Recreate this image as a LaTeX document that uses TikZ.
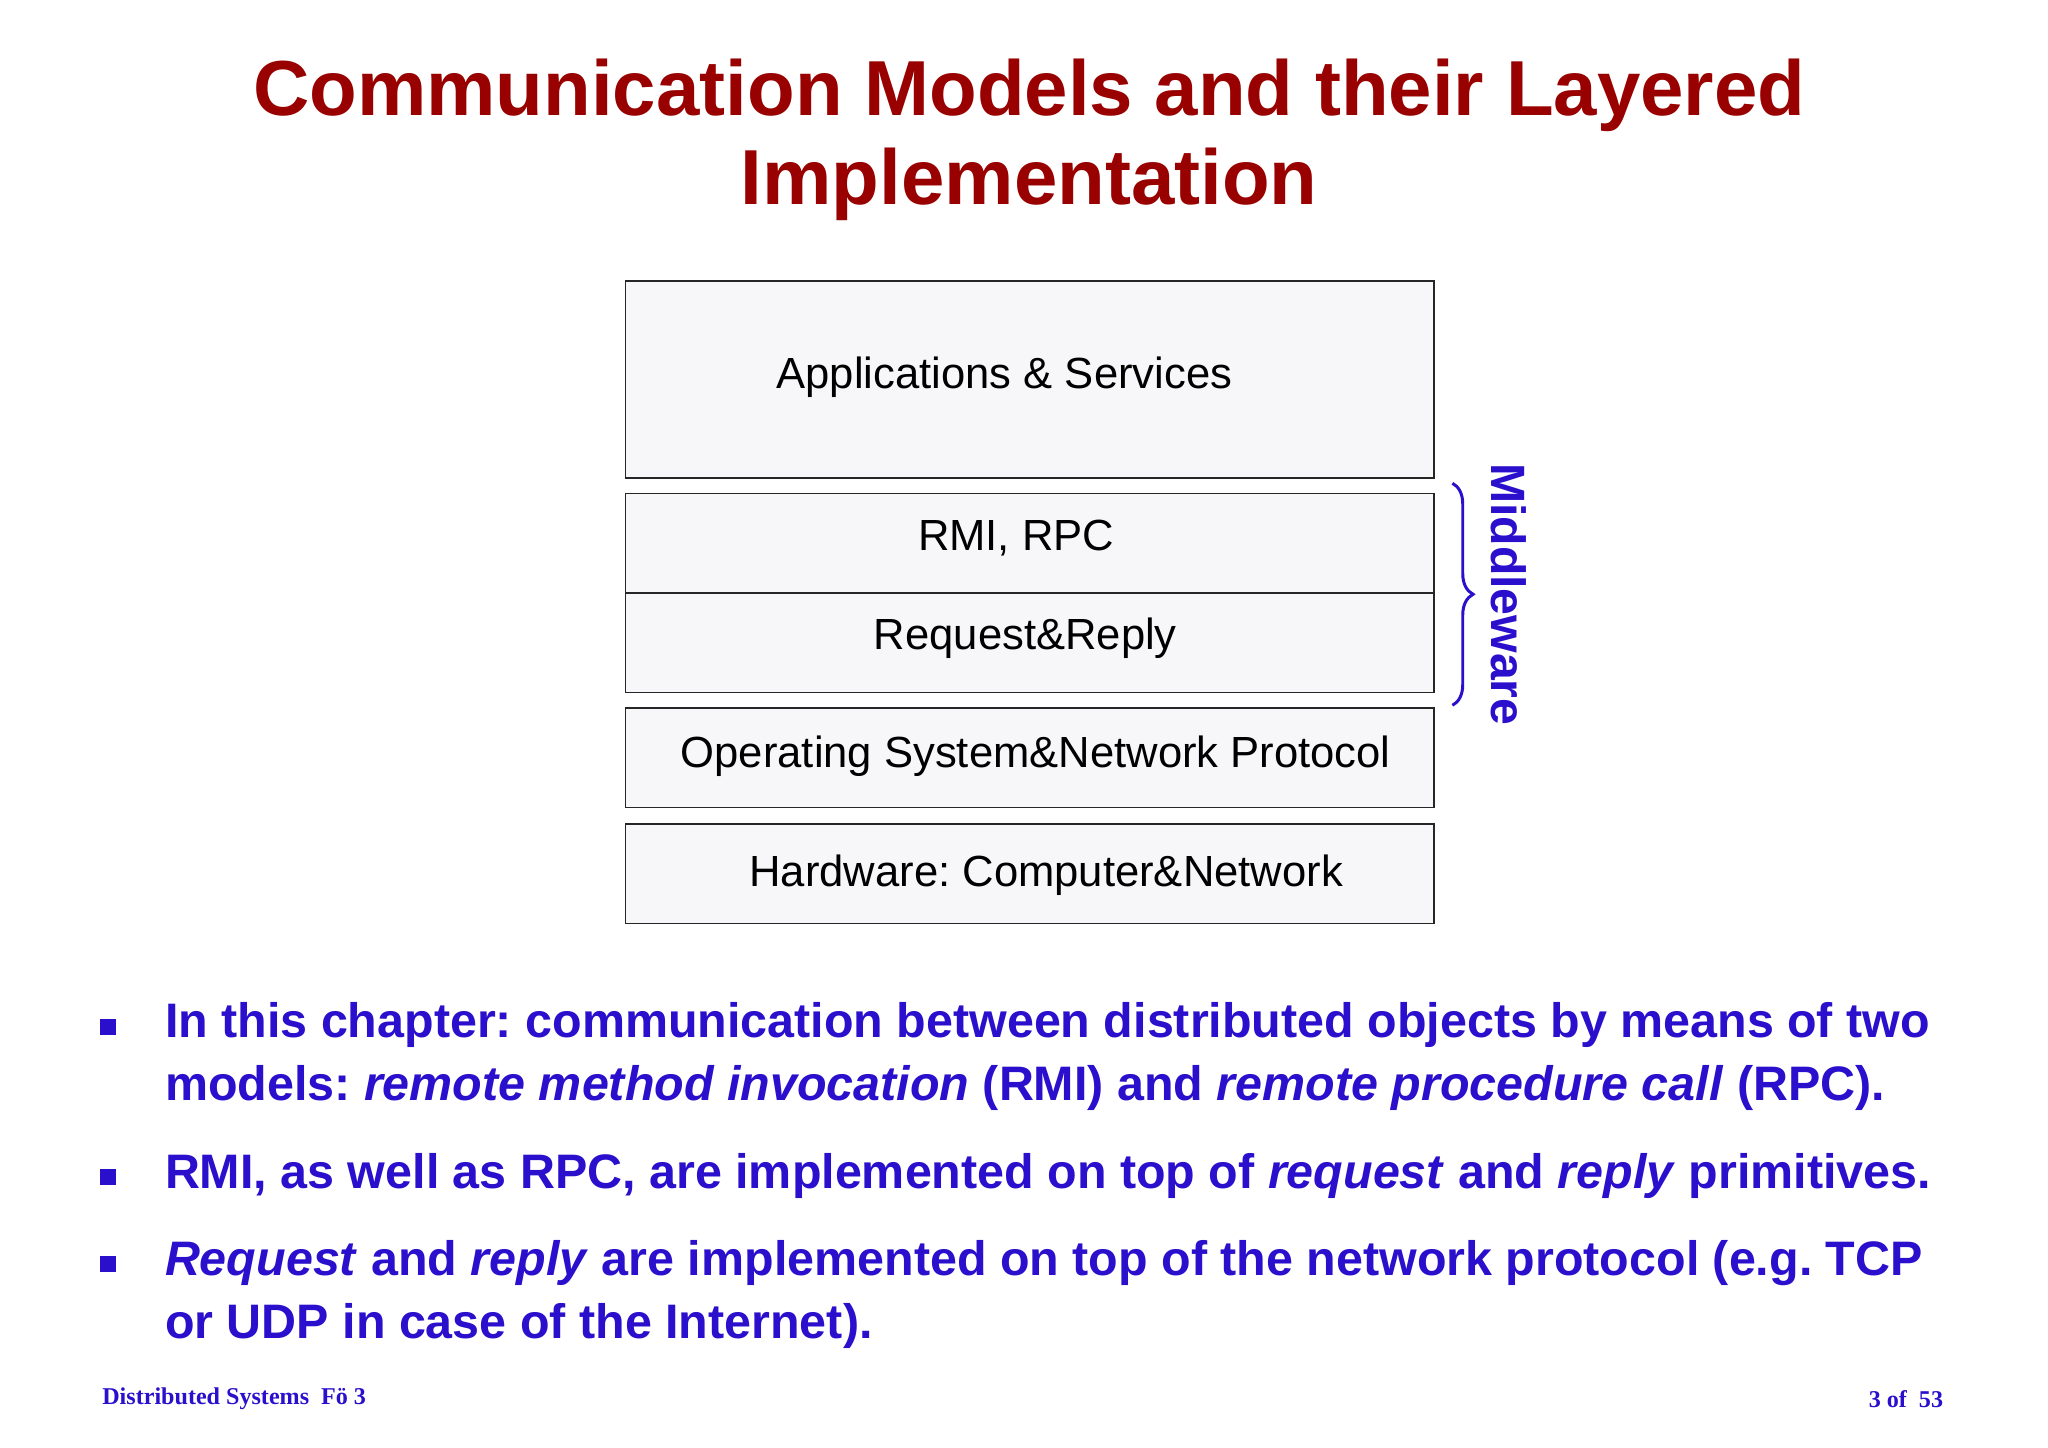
\documentclass[tikz,border=0pt]{standalone}
\usepackage{fontspec}
\setmainfont{Liberation Sans}
\newfontfamily\footfont{Liberation Serif}
\usetikzlibrary{decorations.pathreplacing}
\definecolor{titlered}{HTML}{990000}
\definecolor{bblue}{HTML}{2A0FCC}
\definecolor{boxfill}{HTML}{F7F6F9}
\frenchspacing
\begin{document}
\begin{tikzpicture}[x=0.02cm,y=-0.02cm,
  layer/.style={draw=black!85,line width=0.6pt,fill=boxfill},
  ltext/.style={font=\fontsize{19}{22}\selectfont,text=black},
  btext/.style={anchor=west,inner sep=0,font=\fontsize{21.1}{25}\selectfont\bfseries,text=bblue},
  bsq/.style={fill=bblue,minimum size=7pt,inner sep=0}]
\fill[white!97!blue!2] (0,0) rectangle (1568,1108);
\useasboundingbox (0,0) rectangle (1568,1108);
\node[font=\fontsize{34}{39}\selectfont\bfseries,text=titlered,align=center] (title) at (788,107)
  {Communication Models and their Layered\\Implementation};
\draw[layer] (479,215) rectangle (1098,366);
\draw[layer] (479,378) rectangle (1098,454);
\draw[layer] (479,454) rectangle (1098,530);
\draw[layer] (479,542) rectangle (1098,618);
\draw[layer] (479,631) rectangle (1098,707);
\node[ltext] (apps) at (769,289) {Applications \& Services};
\node[ltext] (rmi) at (778,412) {RMI, RPC};
\node[ltext] (rr) at (785,489) {Request\&Reply};
\node[ltext] (os) at (793,579) {Operating System\&Network Protocol};
\node[ltext] (hw) at (801,670) {Hardware: Computer\&Network};
\coordinate (bt) at (1112,370);
\coordinate (bb) at (1112,540);
\draw[bblue,line width=1.3pt,decorate,decoration={brace,amplitude=9pt}] (bt) -- (bb);
\node[rotate=-90,font=\fontsize{21}{24}\selectfont\bfseries,text=bblue] (mw) at (1155,455) {Middleware};
\node[bsq] (s1) at (83,786) {};
\node[bsq] (s2) at (83,901) {};
\node[bsq] (s3) at (83,968) {};
\node[btext] (l1) at (126,785) {In this chapter: communication between distributed objects by means of two};
\node[btext] (l2) at (126,833) {models: \textit{remote method invocation} (RMI) and \textit{remote procedure call} (RPC).};
\node[btext] (l3) at (126,900) {RMI, as well as RPC, are implemented on top of \textit{request} and \textit{reply} primitives.};
\node[btext] (l4) at (126,967) {\textit{Request} and \textit{reply} are implemented on top of the network protocol (e.g. TCP};
\node[btext] (l5) at (126,1015) {or UDP in case of the Internet).};
\node[anchor=west,inner sep=0,font=\footfont\fontsize{10.5}{12}\selectfont\bfseries,text=bblue] (f1) at (78,1071) {Distributed Systems\ \ Fö 3};
\node[anchor=east,inner sep=0,font=\footfont\fontsize{10.5}{12}\selectfont\bfseries,text=bblue] (f2) at (1488,1071) {3 of\ \ 53};
\end{tikzpicture}
\end{document}
